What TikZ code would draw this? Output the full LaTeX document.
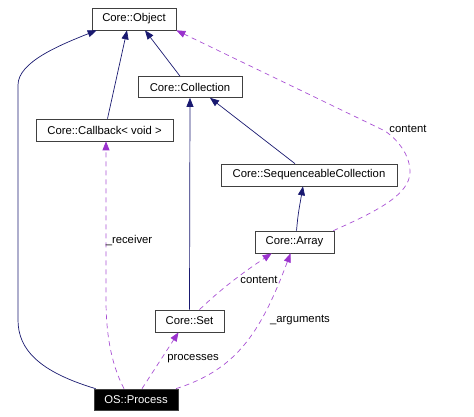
\documentclass[tikz,border=0pt]{standalone}
\usepackage{fontspec}
\setmainfont{Liberation Sans}
\usetikzlibrary{arrows.meta}
\definecolor{inh}{HTML}{191970}
\definecolor{use}{HTML}{9A32CD}
\begin{document}
\begin{tikzpicture}[x=1pt,y=-1pt,
  cls/.style={draw=black!75,line width=0.7pt,fill=white,inner sep=0pt,minimum height=22pt,font=\fontsize{11.3}{13}\selectfont},
  inhline/.style={draw=inh,line width=0.7pt,-{Triangle[length=9pt,width=7pt]}},
  useline/.style={draw=use!85,line width=0.7pt,dash pattern=on 5pt off 4pt,-{Triangle[length=9pt,width=7pt,color=use]}},
  lbl/.style={font=\fontsize{11.3}{13}\selectfont,inner sep=1pt}]
\useasboundingbox (0,0) rectangle (474,417);
\node[cls,minimum width=84pt] (obj) at (134,19) {Core::Object};
\node[cls,minimum width=104pt,minimum height=21pt] (coll) at (190,87) {Core::Collection};
\node[cls,minimum width=137pt] (cb) at (104.5,130) {Core::Callback< void >};
\node[cls,minimum width=176pt] (seq) at (309,175) {Core::SequenceableCollection};
\node[cls,minimum width=79pt] (arr) at (294.5,242) {Core::Array};
\node[cls,minimum width=69pt] (set) at (189.5,321) {Core::Set};
\node[cls,fill=black,text=white,minimum width=84pt,minimum height=21pt] (proc) at (136,399.5) {OS::Process};
% inheritance
\draw[inhline] ([xshift=2pt]proc.north west) .. controls (40,372) and (18,350) .. (18,320) -- (18,85) .. controls (18,62) and (60,45) .. ([xshift=5pt]obj.south west);
\draw[inhline] ([xshift=3pt]cb.north) -- ([xshift=-7pt]obj.south);
\draw[inhline] ([xshift=-10pt]coll.north) -- ([xshift=11pt]obj.south);
\draw[inhline] ([xshift=-14pt]seq.north) -- ([xshift=20pt]coll.south);
\draw[inhline] ([xshift=2pt]arr.north) .. controls (298,215) .. ([xshift=-6pt]seq.south);
\draw[inhline] (set.north) -- (coll.south);
% usage
\draw[useline] ([xshift=-1pt]arr.north east) .. controls (375,212) and (410,195) .. (410,172) .. controls (410,155) and (398,140) .. (385,131) -- (obj.south east);
\node[lbl] (l1) at (408,129) {content};
\draw[useline] ([xshift=10pt]set.north) .. controls (225,285) and (250,268) .. ([xshift=17pt]arr.south west);
\node[lbl] (l2) at (259,280) {content};
\draw[useline] ([xshift=40pt]proc.north) .. controls (235,370) and (260,335) .. ([xshift=-4pt]arr.south);
\node[lbl] (l3) at (300,320) {\_arguments};
\draw[useline] ([xshift=6pt]proc.north) -- ([xshift=-11pt]set.south);
\node[lbl] (l4) at (193,359) {processes};
\draw[useline] ([xshift=-12pt]proc.north) .. controls (110,362) and (106,330) .. (106,300) -- ([xshift=1.5pt]cb.south);
\node[lbl] (l5) at (129,241) {\_receiver};
\end{tikzpicture}
\end{document}
